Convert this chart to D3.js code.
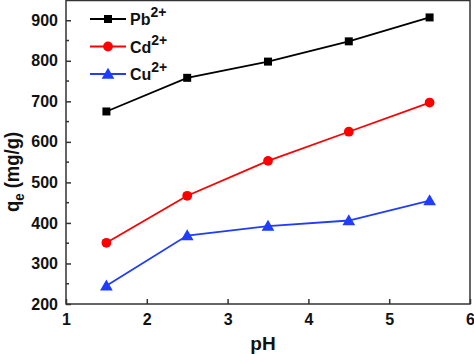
<!DOCTYPE html>
<html><head><meta charset="utf-8">
<script src="https://cdn.jsdelivr.net/npm/d3@7"></script>
<style>body{margin:0;background:#fff}svg{display:block}text{font-family:Arial,"Liberation Sans",sans-serif;font-weight:bold}</style>
</head><body><svg id="c" width="474" height="354"></svg>
<script>
const pH = [1.5, 2.5, 3.5, 4.5, 5.5];
const pb = [675, 758, 798, 848, 907];
const cd = [351, 467, 553, 625, 697];
const cu = [245, 369, 392, 406, 455];
const xTicks = [1, 2, 3, 4, 5, 6];
const yTicks = [200, 300, 400, 500, 600, 700, 800, 900];
const seriesNames = ["Pb", "Cd", "Cu"];

const svg = d3.select("#c");
const L = 66, R = 470, T = 0, B = 304;
const x = d3.scaleLinear().domain([1, 6]).range([L, R]);
const y = d3.scaleLinear().domain([200, 950]).range([B, T]);

// frame
svg.append("rect").attr("x", L).attr("y", T + 0.5).attr("width", R - L).attr("height", B - T - 0.5)
  .attr("fill", "none").attr("stroke", "#333").attr("stroke-width", 1.5);

// y axis
const yAx = svg.append("g").attr("transform", `translate(${L},0)`)
  .call(d3.axisLeft(y).tickValues(yTicks).tickSize(-5).tickPadding(8).tickFormat(d3.format("d")));
yAx.select(".domain").remove();
yAx.selectAll("line").attr("stroke", "#333").attr("stroke-width", 1.5);
yAx.selectAll("text").attr("font-size", 16).attr("fill", "#111");
const yMinor = d3.range(250, 950, 100);
svg.append("g").selectAll("line").data(yMinor).join("line")
  .attr("x1", L).attr("x2", L + 3).attr("y1", d => y(d)).attr("y2", d => y(d))
  .attr("stroke", "#333").attr("stroke-width", 1.5);

// x axis
const xAx = svg.append("g").attr("transform", `translate(0,${B})`)
  .call(d3.axisBottom(x).tickValues(xTicks).tickSize(-5).tickPadding(10).tickFormat(d3.format("d")));
xAx.select(".domain").remove();
xAx.selectAll("line").attr("stroke", "#333").attr("stroke-width", 1.5);
xAx.selectAll("text").attr("font-size", 16).attr("fill", "#111");

// axis titles
svg.append("text").attr("x", 263).attr("y", 350).attr("text-anchor", "middle")
  .attr("font-size", 19).attr("fill", "#111").text("pH");
const yl = svg.append("text").attr("transform", `translate(19,${172}) rotate(-90) scale(0.88,1)`)
  .attr("text-anchor", "middle").attr("font-size", 21).attr("fill", "#111");
yl.append("tspan").text("q");
yl.append("tspan").attr("font-size", 15).attr("dy", 5).text("e");
yl.append("tspan").attr("dy", -5).text(" (mg/g)");

const series = [
  {name: seriesNames[0], vals: pb, color: "#000000", sym: d3.symbolSquare, size: 64},
  {name: seriesNames[1], vals: cd, color: "#ff0000", sym: d3.symbolCircle, size: 75},
  {name: seriesNames[2], vals: cu, color: "#1f3cff", sym: d3.symbolTriangle, size: 70}
];
const line = d3.line().x((d, i) => x(pH[i])).y(d => y(d));
series.forEach(s => {
  svg.append("path").datum(s.vals).attr("d", line).attr("fill", "none")
    .attr("stroke", s.color).attr("stroke-width", 1.8);
  svg.append("g").selectAll("path").data(s.vals).join("path")
    .attr("d", d3.symbol().type(s.sym).size(s.size))
    .attr("transform", (d, i) => `translate(${x(pH[i])},${y(d) + (s.sym === d3.symbolTriangle ? 1 : 0)})`)
    .attr("fill", s.color);
});

// legend
const lg = svg.append("g");
series.forEach((s, i) => {
  const ly = 19 + i * 27.5;
  lg.append("line").attr("x1", 90).attr("x2", 126).attr("y1", ly).attr("y2", ly)
    .attr("stroke", s.color).attr("stroke-width", 1.8);
  lg.append("path").attr("d", d3.symbol().type(s.sym).size(s.size))
    .attr("transform", `translate(108,${ly + (s.sym === d3.symbolTriangle ? 1 : 0)})`).attr("fill", s.color);
  const t = lg.append("text").attr("x", 130).attr("y", ly + 6).attr("font-size", 16).attr("fill", "#111");
  t.append("tspan").text(s.name);
  t.append("tspan").attr("dy", -8).attr("font-size", 14).text("2+");
});
</script></body></html>
